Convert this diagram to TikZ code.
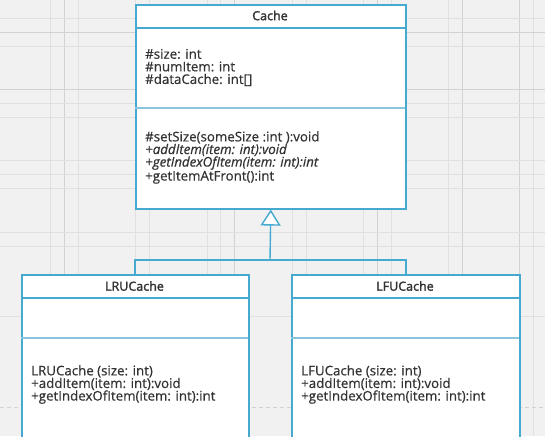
\documentclass[tikz,border=0pt]{standalone}
\usepackage{fontspec}
\setmainfont{Open Sans}
\newfontfamily\bodyfont[FakeBold=0.6]{Open Sans}
\newfontfamily\titlefont[FakeBold=2]{Open Sans}
\usetikzlibrary{arrows.meta}
\definecolor{bg}{HTML}{F1F1F1}
\definecolor{gridl}{HTML}{E0E0E0}
\definecolor{gridd}{HTML}{D2D2D2}
\definecolor{umlblue}{HTML}{45A9D0}
\definecolor{divblue}{HTML}{86C5DD}
\definecolor{txt}{HTML}{333333}
\tikzset{
  cls/.style={draw=umlblue, line width=1.6pt, fill=white, inner sep=0pt, anchor=north west},
  divline/.style={draw=umlblue, line width=1.5pt},
  divlight/.style={draw=divblue, line width=2.2pt},
  ttl/.style={font=\titlefont\fontsize{12.5}{13}\selectfont, text=txt, inner sep=0pt},
  body/.style={font=\bodyfont\fontsize{13.3}{12.6}\selectfont, text=txt, align=left, inner sep=0pt, anchor=west},
  conn/.style={draw=umlblue, line width=1.7pt},
  gl/.style={draw=gridl, line width=0.6pt},
  gd/.style={draw=gridd, line width=0.7pt},
}
\begin{document}
\begin{tikzpicture}[x=1pt,y=-1pt]
\clip (0,0) rectangle (545,436);
\fill[bg] (0,0) rectangle (545,436);
% grid
\foreach \gx in {50.5,78.2,135.6,149.5,206.8,220.7,292,306,363,391,448,533.5}
  \draw[gl] (\gx,0) -- (\gx,436);
\foreach \gx in {64.3,234.6,377,462.6,519}
  \draw[gd] (\gx,0) -- (\gx,436);
\foreach \gy in {18,46,103,117,160,174,188,232,246,316}
  \draw[gl] (0,\gy) -- (545,\gy);
\foreach \gy in {32,89}
  \draw[gd] (0,\gy) -- (545,\gy);
\draw[draw=gridd, line width=0.8pt, dash pattern=on 4pt off 3pt] (0,407.5) -- (545,407.5);

% Cache
\node[cls, minimum width=270pt, minimum height=204pt] (cache) at (135,4) {};
\draw[divline] (135,28) -- (405,28);
\draw[divlight] (135,108) -- (405,108);
\node[ttl] (cachet) at (270,15.5) {Cache};
\node[body] (cachea) at (145,67.5) {\#size: int\\\#numItem: int\\\#dataCache: int[]};
\node[body] (cachem) at (145,157.5) {\#setSize(someSize :int ):void\\\textit{+addItem(item: int):void}\\\textit{+getIndexOfItem(item: int):int}\\+getItemAtFront():int};

% LRU
\node[cls, minimum width=227pt, minimum height=180pt] (lru) at (21,274) {};
\draw[divline] (21,298) -- (248,298);
\draw[divlight] (21,338) -- (248,338);
\node[ttl] (lrut) at (134.5,286) {LRUCache};
\node[body] (lrum) at (31,384.5) {LRUCache (size: int)\\+addItem(item: int):void\\+getIndexOfItem(item: int):int};

% LFU
\node[cls, minimum width=228pt, minimum height=180pt] (lfu) at (291,274) {};
\draw[divline] (291,298) -- (519,298);
\draw[divlight] (291,338) -- (519,338);
\node[ttl] (lfut) at (405,286) {LFUCache};
\node[body] (lfum) at (301,384.5) {LFUCache (size: int)\\+addItem(item: int):void\\+getIndexOfItem(item: int):int};

% generalization
\coordinate (join) at (270,260);
\draw[conn] (lru.north) |- (join);
\draw[conn] (lfu.north) |- (join);
\draw[conn, line width=1.4pt, -{Triangle[open, fill=white, width=20pt, length=16pt]}] (join) -- (cache.south);
\end{tikzpicture}
\end{document}
